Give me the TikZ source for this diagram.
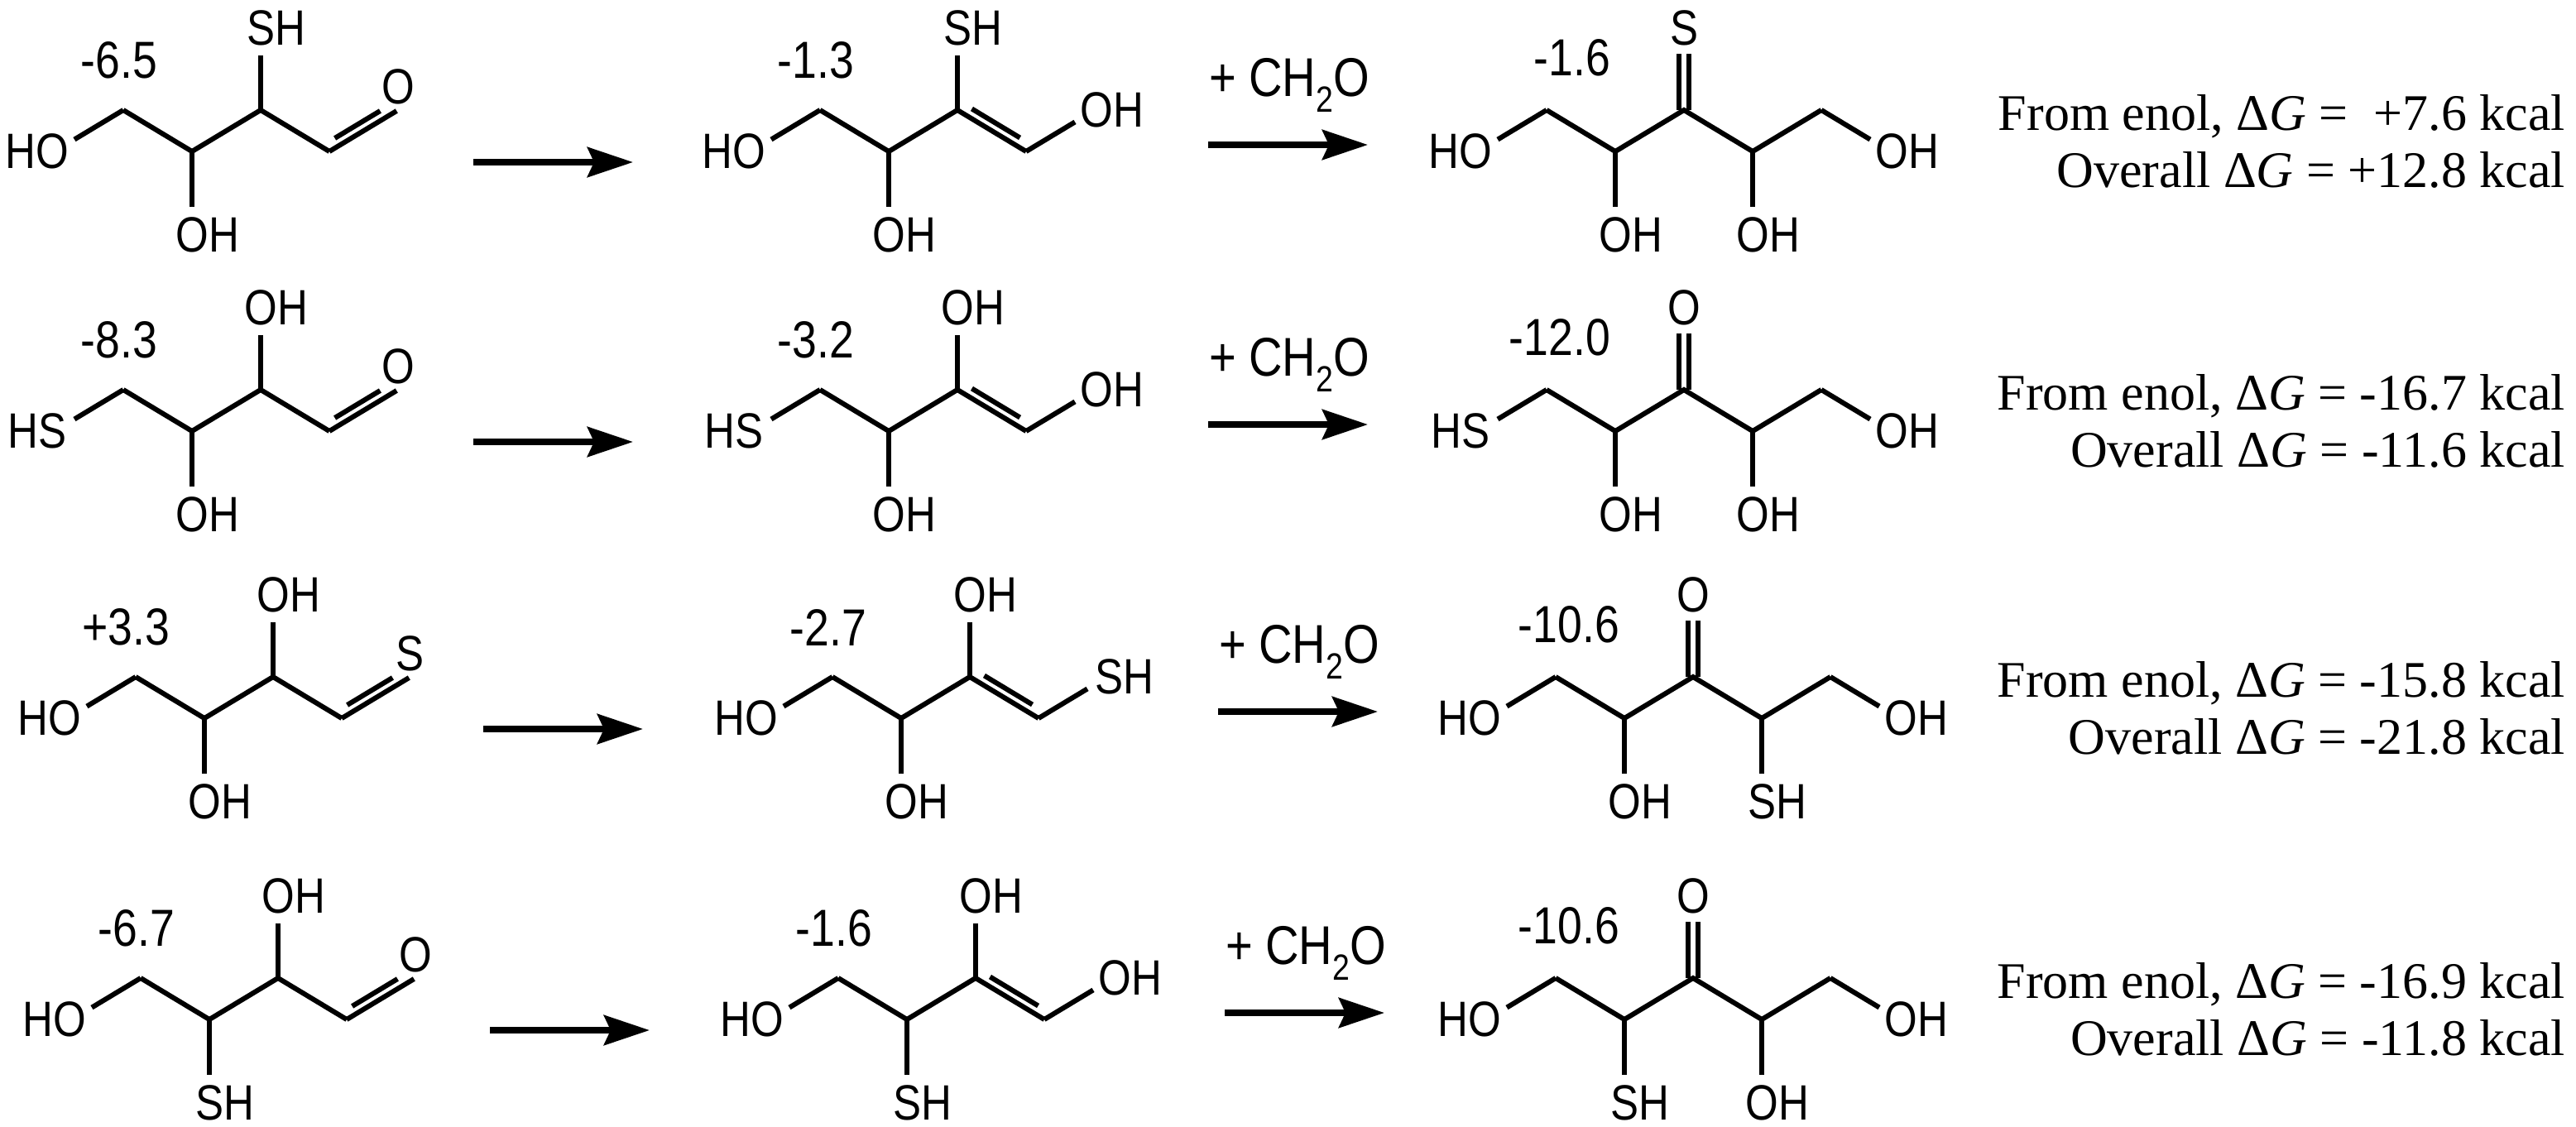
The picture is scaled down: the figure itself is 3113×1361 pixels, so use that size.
\documentclass[tikz,border=0pt]{standalone}
\usepackage{fontspec}
\setmainfont{Liberation Serif}
\newfontfamily\chem[FakeStretch=0.85]{Liberation Sans}
\usetikzlibrary{calc,arrows.meta}
\tikzset{
  bond/.style={line width=6pt},
  atom/.style={font=\chem\fontsize{60}{60}\selectfont, inner sep=0pt},
  num/.style={font=\chem\fontsize{63}{63}\selectfont, inner sep=0pt, anchor=east},
  rxn/.style={line width=8pt,-{Stealth[length=55pt,width=36pt,inset=8pt]}},
  dg/.style={font=\fontsize{62}{62}\selectfont, inner sep=0pt, anchor=base east},
}
% backbone coordinates
\newcommand\bb[3]{%
  \coordinate (#1cm) at ($(#2,#3)+(-83,50)$);
  \foreach \i in {0,...,5}{%
    \pgfmathsetmacro\yy{50*mod(\i,2)}%
    \coordinate (#1c\i) at ($(#2,#3)+(83*\i,\yy)$);}%
}
\newcommand\head[2]{%
  \node[atom] (#1hd) at ($(#1cm)+(-21,0)$) {#2};
  \draw[bond,shorten >=28pt] (#1c0) -- (#1cm);}
\newcommand\topsub[3]{%
  \coordinate (#1#2t) at ($(#1#2)+(0,-66)$);
  \node[atom] (#1#2tl) at ($(#1#2)+(19,-99)$) {#3};
  \draw[bond] (#1#2) -- (#1#2t);}
\newcommand\botsub[3]{%
  \coordinate (#1#2b) at ($(#1#2)+(0,67)$);
  \node[atom] (#1#2bl) at ($(#1#2)+(19,101)$) {#3};
  \draw[bond] (#1#2) -- (#1#2b);}
\newcommand\tailgrp[4]{% prefix, from, to, text
  \node[atom] (#1tl) at ($(#1#3)+(21,0)$) {#4};
  \draw[bond,shorten >=28pt] (#1#2) -- (#1#3);}
\newcommand\dblend[2]{% aldehyde-like end at c4
  \node[atom] (#1de) at ($(#1c4)+(0,-28)$) {#2};
  \draw[bond,shorten >=2pt] (#1c3) -- (#1c4);
  \draw[bond] ($(#1c3)!0.14!(#1c4)+(-5,-9)$) -- ($(#1c3)!0.8!(#1c4)+(-5,-9)$);}
\newcommand\keto[2]{%
  \coordinate (#1kt) at ($(#1c2)+(0,-68)$);
  \node[atom] (#1kl) at ($(#1c2)+(0,-99)$) {#2};
  \draw[bond] ($(#1c2)+(-6,0)$) -- ($(#1kt)+(-6,0)$);
  \draw[bond] ($(#1c2)+(6,0)$) -- ($(#1kt)+(6,0)$);}
\newcommand\sub[1]{\raisebox{-0.3em}{\fontsize{44}{44}\selectfont #1}}
\newcommand\rowarrows[3]{%
  \coordinate (#1a1s) at ($(572+#3,#2+63)$);
  \coordinate (#1a1e) at ($(765+#3,#2+63)$);
  \draw[rxn] (#1a1s) -- (#1a1e);
  \coordinate (#1a2s) at ($(1460+#3,#2+42)$);
  \coordinate (#1a2e) at ($(1653+#3,#2+42)$);
  \draw[rxn] (#1a2s) -- (#1a2e);
  \node[font=\chem\fontsize{66}{66}\selectfont, inner sep=0pt] (#1ch) at ($(1558+#3,#2-30)$) {+ CH\sub{2}O};}
\newcommand\dgtext[4]{%
  \node[dg] (#1f) at (3100,#2+24) {From enol, Δ\textit{G} = #3 kcal};
  \node[dg] (#1o) at (3100,#2+93) {Overall Δ\textit{G} = #4 kcal};}
\newcommand\chain[2]{% prefix, last index
  \draw[bond] (#1c0) \foreach \k in {1,...,#2}{ -- (#1c\k)};}
\begin{document}
\begin{tikzpicture}[x=1pt,y=-1pt]
\useasboundingbox (0,0) rectangle (3113,1361);
\fill[white] (0,0) rectangle (3113,1361);
% ---------- Row 1
\bb{a}{149}{133}
\head{a}{HO}\chain{a}{3}\topsub{a}{c2}{SH}\botsub{a}{c1}{OH}\dblend{a}{O}
\node[num] (al) at ($(ac0)+(41,-60)$) {-6.5};
\bb{b}{991}{133}
\head{b}{HO}\chain{b}{3}\topsub{b}{c2}{SH}\botsub{b}{c1}{OH}\tailgrp{b}{c3}{c4}{OH}
\draw[bond] ($(bc2)!0.15!(bc3)+(5,-9)$) -- ($(bc2)!0.85!(bc3)+(5,-9)$);
\node[num] (bl) at ($(bc0)+(41,-60)$) {-1.3};
\bb{c}{1869}{133}
\head{c}{HO}\chain{c}{4}\keto{c}{S}\botsub{c}{c1}{OH}\botsub{c}{c3}{OH}\tailgrp{c}{c4}{c5}{OH}
\node[num] (cl) at ($(cc0)+(77,-63)$) {-1.6};
\rowarrows{r1}{133}{0}
\dgtext{r1}{133}{\ +7.6}{+12.8}
% ---------- Row 2
\bb{d}{149}{471}
\head{d}{HS}\chain{d}{3}\topsub{d}{c2}{OH}\botsub{d}{c1}{OH}\dblend{d}{O}
\node[num] (dl) at ($(dc0)+(41,-60)$) {-8.3};
\bb{e}{991}{471}
\head{e}{HS}\chain{e}{3}\topsub{e}{c2}{OH}\botsub{e}{c1}{OH}\tailgrp{e}{c3}{c4}{OH}
\draw[bond] ($(ec2)!0.15!(ec3)+(5,-9)$) -- ($(ec2)!0.85!(ec3)+(5,-9)$);
\node[num] (el) at ($(ec0)+(41,-60)$) {-3.2};
\bb{f}{1869}{471}
\head{f}{HS}\chain{f}{4}\keto{f}{O}\botsub{f}{c1}{OH}\botsub{f}{c3}{OH}\tailgrp{f}{c4}{c5}{OH}
\node[num] (fl) at ($(fc0)+(77,-63)$) {-12.0};
\rowarrows{r2}{471}{0}
\dgtext{r2}{471}{-16.7}{-11.6}
% ---------- Row 3
\bb{g}{164}{818}
\head{g}{HO}\chain{g}{3}\topsub{g}{c2}{OH}\botsub{g}{c1}{OH}\dblend{g}{S}
\node[num] (gl) at ($(gc0)+(41,-60)$) {+3.3};
\bb{h}{1006}{818}
\head{h}{HO}\chain{h}{3}\topsub{h}{c2}{OH}\botsub{h}{c1}{OH}\tailgrp{h}{c3}{c4}{SH}
\draw[bond] ($(hc2)!0.15!(hc3)+(5,-9)$) -- ($(hc2)!0.85!(hc3)+(5,-9)$);
\node[num] (hl) at ($(hc0)+(41,-60)$) {-2.7};
\bb{i}{1880}{818}
\head{i}{HO}\chain{i}{4}\keto{i}{O}\botsub{i}{c1}{OH}\botsub{i}{c3}{SH}\tailgrp{i}{c4}{c5}{OH}
\node[num] (il) at ($(ic0)+(77,-63)$) {-10.6};
\rowarrows{r3}{818}{12}
\dgtext{r3}{818}{-15.8}{-21.8}
% ---------- Row 4
\bb{j}{170}{1182}
\head{j}{HO}\chain{j}{3}\topsub{j}{c2}{OH}\botsub{j}{c1}{SH}\dblend{j}{O}
\node[num] (jl) at ($(jc0)+(41,-60)$) {-6.7};
\bb{k}{1013}{1182}
\head{k}{HO}\chain{k}{3}\topsub{k}{c2}{OH}\botsub{k}{c1}{SH}\tailgrp{k}{c3}{c4}{OH}
\draw[bond] ($(kc2)!0.15!(kc3)+(5,-9)$) -- ($(kc2)!0.85!(kc3)+(5,-9)$);
\node[num] (kl) at ($(kc0)+(41,-60)$) {-1.6};
\bb{l}{1880}{1182}
\head{l}{HO}\chain{l}{4}\keto{l}{O}\botsub{l}{c1}{SH}\botsub{l}{c3}{OH}\tailgrp{l}{c4}{c5}{OH}
\node[num] (ll) at ($(lc0)+(77,-63)$) {-10.6};
\rowarrows{r4}{1182}{20}
\dgtext{r4}{1182}{-16.9}{-11.8}
\end{tikzpicture}
\end{document}
